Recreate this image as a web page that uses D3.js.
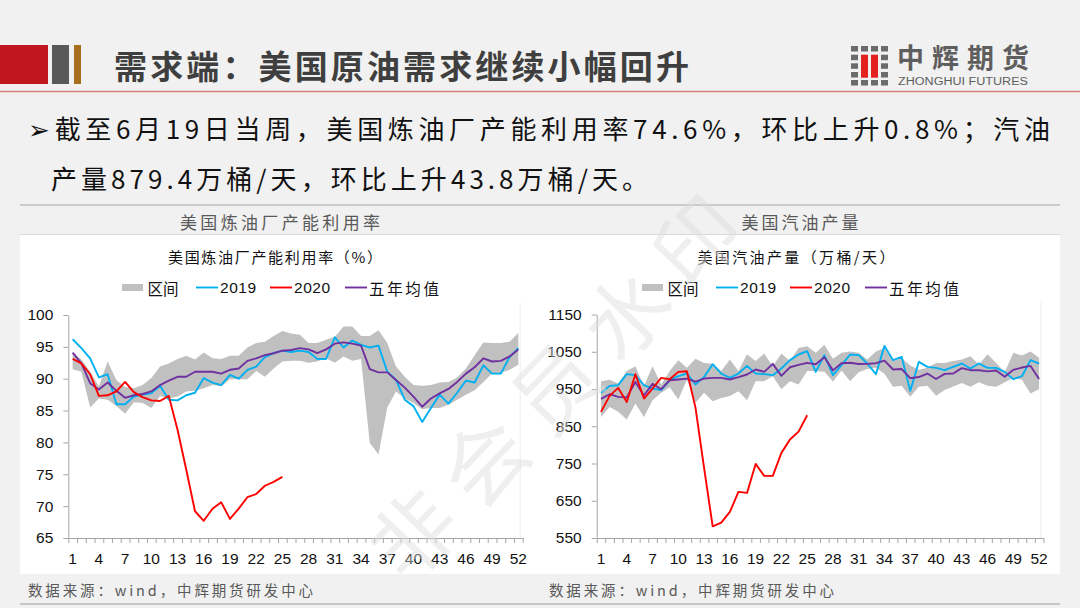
<!DOCTYPE html>
<html><head><meta charset="utf-8">
<script src="https://cdn.jsdelivr.net/npm/d3@7"></script>
<style>
body{margin:0;background:#f1f1f1;}
svg{display:block;}
</style></head>
<body>
<svg id="c" width="1080" height="608"></svg>
<script>
// ---------- data ----------
const weeks = d3.range(1, 53);
const xTickLabels = [1,4,7,10,13,16,19,22,25,28,31,34,37,40,43,46,49,52];
const legendLabels = ["区间","2019","2020","五年均值"];

// 美国炼油厂产能利用率 (%)
const utilTicks = [65,70,75,80,85,90,95,100];
const utilUpper = [94.1,93.0,91.1,88.8,92.7,89.8,88.7,88.5,89.0,90.1,91.9,92.4,93.1,93.6,93.0,94.1,93.2,93.1,93.6,93.6,94.9,95.6,95.8,96.7,97.5,97.1,96.9,95.6,95.6,96.1,96.6,98.2,98.2,96.7,96.7,97.6,95.6,91.9,90.3,89.0,88.9,89.0,89.4,89.5,90.2,91.6,93.7,95.7,95.6,95.6,95.8,97.2];
const utilLower = [91.5,91.1,85.5,86.9,86.7,85.7,84.5,86.3,86.2,85.4,87.3,86.9,87.2,88.0,88.1,88.5,89.0,88.8,89.9,89.9,89.9,91.2,90.3,91.6,92.7,92.8,92.8,92.5,92.7,93.2,92.5,93.5,92.8,93.1,79.9,78.1,85.5,88.0,86.9,86.2,85.2,85.4,85.4,85.9,86.7,87.5,88.2,89.5,90.8,90.9,91.4,92.2];
const util2019 = [96.2,94.8,93.2,90.2,90.7,86.0,86.0,87.2,87.5,87.7,88.9,86.7,86.6,87.4,87.8,90.1,89.4,89.0,90.6,90.0,91.4,91.9,93.4,94.0,94.4,94.2,94.4,94.2,93.1,93.1,96.5,94.9,96.0,95.3,94.9,95.2,91.1,89.8,86.7,85.7,83.2,85.4,87.5,86.1,87.8,89.7,89.4,92.1,90.8,90.8,93.4,94.8];
const util2020 = [93.1,92.4,90.7,87.3,87.4,88.0,89.5,87.9,87.1,86.6,86.5,87.3,82.0,75.7,69.2,67.7,69.6,70.6,68.0,69.6,71.4,71.9,73.2,73.8,74.6];
const util5y = [94.1,92.4,89.3,88.3,89.4,88.1,87.0,87.4,87.6,88.0,89.0,89.7,90.3,90.3,91.1,91.1,91.1,90.8,91.4,91.6,92.8,93.2,93.7,94.0,94.4,94.5,94.8,94.6,94.0,94.6,95.5,95.7,95.5,95.2,91.5,91.0,91.0,89.8,88.6,87.2,85.6,86.9,87.7,88.4,89.5,90.8,91.8,93.2,92.7,92.8,93.5,94.6];

// 美国汽油产量 (万桶/天)
const gasTicks = [550,650,750,850,950,1050,1150];
const gasUpper = [971,975,965,998,1011,958,1011,962,998,1027,1007,1031,1020,1018,998,1029,998,1043,1025,1045,1011,1045,1025,1060,1065,1047,1069,1031,1047,1051,1047,1029,1051,1060,1025,1033,1013,1002,1007,1020,1020,1025,1029,1038,1016,1043,1020,995,1047,1040,1051,1034];
const gasLower = [875,902,889,868,911,875,920,940,955,922,975,913,940,917,926,931,944,920,971,971,984,949,971,962,998,998,996,970,1000,971,995,1004,1007,991,956,959,929,956,959,932,947,957,966,956,968,959,956,968,980,975,938,950];
const gas2019 = [939.6,958.4,960.2,989.8,987.1,960.2,951.3,946.8,973.6,984.4,991.5,962,982.6,1016.6,991.5,979.9,991.5,1012,991.5,989.8,987.1,1005,1027.4,1042.6,1051.5,996,1040.8,987,1014,1042.6,1040.8,1018.4,989.8,1065.8,1027.4,1036.3,945,1022.9,1009.4,1006.8,1000.5,1009.4,1018.4,1005,1018.4,1006.8,1006.8,996,976.3,984.4,1027.4,1018.4];
const gas2020 = [888.6,931.6,953,915.4,989.8,924.4,951.3,979.9,976.3,996,997.8,900,738,581.5,591.4,620,673.7,671,748.9,716.7,716.7,778.5,814.3,835.6,879.4];
const gas5y = [923.5,936,928.9,927.5,969,932.5,963.8,949.5,973.5,975.5,978,970,978.1,979.9,979.9,975.4,981.7,988.9,1002.3,996,1017.5,985.3,1008.5,1014.8,1020.2,1016.6,1035.4,1000,1019.3,1020.6,1017,1017.4,1019.3,1026,1002.3,1003.6,979,982.1,991.5,976.8,990.6,991.5,1005.9,1000.5,1000.5,997.4,999.6,982.6,1001.4,1007.6,1012,976.8];

// ---------- drawing ----------
const svg = d3.select("#c");
const CJK = "'Noto Sans CJK SC', 'Noto Sans', sans-serif";
const NUM = "'Liberation Sans', Arial, sans-serif";

svg.append("rect").attr("width",1080).attr("height",608).attr("fill","#f1f1f1");

// header
svg.append("rect").attr("x",0).attr("y",45).attr("width",48).attr("height",39).attr("fill","#c0161d");
svg.append("rect").attr("x",52).attr("y",45).attr("width",17).attr("height",39).attr("fill","#595959");
svg.append("rect").attr("x",74).attr("y",45).attr("width",7).attr("height",39).attr("fill","#a8701e");
svg.append("text").attr("x",114).attr("y",65).attr("dominant-baseline","central")
  .attr("font-family",CJK).attr("font-weight","bold").attr("font-size",33).attr("fill","#3f3f3f")
  .attr("textLength",575).attr("lengthAdjust","spacing")
  .text("需求端：美国原油需求继续小幅回升");
svg.append("line").attr("x1",0).attr("x2",1080).attr("y1",91.5).attr("y2",91.5)
  .attr("stroke","#d98080").attr("stroke-width",1.5);

// logo
const logo = svg.append("g");
const colX = [851,861,871,881], rowY = [46,54.7,63.3,72,80];
rowY.forEach((ry,ri)=>colX.forEach((cx,ci)=>{
  if ((ci===1||ci===2) && ri>=1 && ri<=3) return;
  logo.append("rect").attr("x",cx).attr("y",ry).attr("width",7).attr("height",5.5).attr("fill","#6b6b6b");
}));
logo.append("rect").attr("x",861).attr("y",54.7).attr("width",7).attr("height",23).attr("fill","#e3211f");
logo.append("rect").attr("x",871).attr("y",54.7).attr("width",7).attr("height",23).attr("fill","#e3211f");
logo.append("text").attr("x",897).attr("y",56.5).attr("dominant-baseline","central")
  .attr("font-family",CJK).attr("font-weight","bold").attr("font-size",27).attr("fill","#5e5e5e")
  .attr("textLength",132).attr("lengthAdjust","spacing").text("中辉期货");
logo.append("text").attr("x",898).attr("y",81.5).attr("dominant-baseline","central")
  .attr("font-family",NUM).attr("font-size",10).attr("fill","#5e5e5e")
  .attr("textLength",130).attr("lengthAdjust","spacingAndGlyphs").text("ZHONGHUI FUTURES");

// bullet text
svg.append("text").attr("x",28).attr("y",127).attr("dominant-baseline","central")
  .attr("font-family",CJK).attr("font-size",26).attr("fill","#111")
  .attr("textLength",1022).attr("lengthAdjust","spacing")
  .text("➢截至6月19日当周，美国炼油厂产能利用率74.6%，环比上升0.8%；汽油");
svg.append("text").attr("x",51).attr("y",177).attr("dominant-baseline","central")
  .attr("font-family",CJK).attr("font-size",26).attr("fill","#111")
  .attr("textLength",597).attr("lengthAdjust","spacing")
  .text("产量879.4万桶/天，环比上升43.8万桶/天。");

// panel
svg.append("rect").attr("x",20).attr("y",235).attr("width",1040).attr("height",339).attr("fill","#ffffff");
svg.append("line").attr("x1",20).attr("x2",1060).attr("y1",205).attr("y2",205).attr("stroke","#bdbdbd").attr("stroke-width",1.5);
svg.append("line").attr("x1",20).attr("x2",1060).attr("y1",234.5).attr("y2",234.5).attr("stroke","#dadada").attr("stroke-width",1);
svg.append("line").attr("x1",20).attr("x2",1060).attr("y1",604).attr("y2",604).attr("stroke","#c6c6c6").attr("stroke-width",2);

function footer(x, len){
  svg.append("text").attr("x",x).attr("y",589).attr("dominant-baseline","central")
    .attr("font-family",CJK).attr("font-size",14.5).attr("fill","#595959")
    .attr("textLength",len).attr("lengthAdjust","spacing").text("数据来源：wind，中辉期货研发中心");
}
footer(28,285); footer(549,285);

function drawChart(cfg){
  const g = svg.append("g");
  g.append("text").attr("x",cfg.subX).attr("y",221.5).attr("text-anchor","middle").attr("dominant-baseline","central")
    .attr("font-family",CJK).attr("font-size",17).attr("fill","#595959")
    .attr("textLength",cfg.subLen).attr("lengthAdjust","spacing").text(cfg.subtitle);
  g.append("text").attr("x",cfg.titleX).attr("y",256).attr("text-anchor","middle").attr("dominant-baseline","central")
    .attr("font-family",CJK).attr("font-size",15).attr("fill","#111")
    .attr("textLength",cfg.titleLen).attr("lengthAdjust","spacing").text(cfg.title);

  const x = d3.scaleBand().domain(weeks).range([cfg.x0, cfg.x1]).paddingInner(0).paddingOuter(0);
  const xc = w => x(w) + x.bandwidth()/2;
  const xb = d3.scaleLinear().domain([0,52]).range([cfg.x0, cfg.x1]);
  const y = d3.scaleLinear().domain(cfg.yDomain).range([cfg.yBottom, cfg.yTop]);

  g.append("line").attr("x1",cfg.x1-2.5).attr("x2",cfg.x1-2.5).attr("y1",cfg.yTop-12).attr("y2",cfg.yBottom)
    .attr("stroke","#ececec").attr("stroke-width",1);

  const band = weeks.map((w,i)=>({w, lo:cfg.lower[i], hi:cfg.upper[i]}));
  g.append("path").datum(band)
    .attr("d", d3.area().x(d=>xc(d.w)).y0(d=>y(d.lo)).y1(d=>y(d.hi)))
    .attr("fill","#c0c0c0");

  const line = d3.line().x(d=>xc(d.w)).y(d=>y(d.v));
  const series = [
    {vals:cfg.s2019, color:"#00b0f0"},
    {vals:cfg.s5y, color:"#7030a0"},
    {vals:cfg.s2020, color:"#ff0000"}
  ];
  series.forEach(s=>{
    g.append("path").datum(s.vals.map((v,i)=>({w:weeks[i], v})))
      .attr("d", line).attr("fill","none").attr("stroke",s.color)
      .attr("stroke-width",1.9).attr("stroke-linejoin","round");
  });

  const ya = g.append("g").attr("transform",`translate(${cfg.x0},0)`)
    .call(d3.axisLeft(y).tickValues(cfg.ticks).tickFormat(d3.format("d")).tickSize(5).tickPadding(10).tickSizeOuter(0));
  ya.select(".domain").attr("stroke","#a6a6a6");
  ya.selectAll(".tick line").attr("stroke","#a6a6a6");
  ya.selectAll("text").attr("font-family",NUM).attr("font-size",15.5).attr("fill","#111");

  const xa = g.append("g").attr("transform",`translate(0,${cfg.yBottom})`)
    .call(d3.axisBottom(xb).tickValues(d3.range(0,53)).tickSize(5).tickFormat("").tickSizeOuter(0));
  xa.select(".domain").attr("stroke","#a6a6a6");
  xa.selectAll(".tick line").attr("stroke","#a6a6a6");
  const xl = g.append("g").attr("transform",`translate(0,${cfg.yBottom})`)
    .call(d3.axisBottom(x).tickValues(xTickLabels).tickSize(0).tickPadding(14.5));
  xl.select(".domain").remove();
  xl.selectAll("text").attr("font-family",NUM).attr("font-size",15.5).attr("fill","#111");

  const L = cfg.legX;
  const ly = 287.5;
  g.append("rect").attr("x",L).attr("y",ly-3.5).attr("width",21).attr("height",7).attr("fill","#c0c0c0");
  const items = [
    {lx:L+74, color:"#00b0f0", tx:L+98, len:36, t:legendLabels[1]},
    {lx:L+148, color:"#ff0000", tx:L+172, len:36, t:legendLabels[2]},
    {lx:L+223, color:"#7030a0", tx:L+247, len:70, t:legendLabels[3]}
  ];
  g.append("text").attr("x",L+25.5).attr("y",ly).attr("dominant-baseline","central")
    .attr("font-family",CJK).attr("font-size",15.5).attr("fill","#111")
    .attr("textLength",31).attr("lengthAdjust","spacing").text(legendLabels[0]);
  items.forEach(it=>{
    g.append("line").attr("x1",it.lx).attr("x2",it.lx+22).attr("y1",ly).attr("y2",ly)
      .attr("stroke",it.color).attr("stroke-width",1.9);
    g.append("text").attr("x",it.tx).attr("y",ly).attr("dominant-baseline","central")
      .attr("font-family", /\d/.test(it.t) ? NUM : CJK).attr("font-size",15.5).attr("fill","#111")
      .attr("textLength",it.len).attr("lengthAdjust","spacing").text(it.t);
  });
}

drawChart({
  subtitle:"美国炼油厂产能利用率", subX:280, subLen:200,
  title:"美国炼油厂产能利用率（%）", titleX:275, titleLen:214,
  x0:68.3, x1:522.7, yTop:315, yBottom:538, yDomain:[65,100], ticks:utilTicks,
  upper:utilUpper, lower:utilLower, s2019:util2019, s2020:util2020, s5y:util5y,
  legX:122
});
drawChart({
  subtitle:"美国汽油产量", subX:800, subLen:117,
  title:"美国汽油产量（万桶/天）", titleX:796, titleLen:197,
  x0:596.7, x1:1043.4, yTop:314.5, yBottom:538, yDomain:[550,1150], ticks:gasTicks,
  upper:gasUpper, lower:gasLower, s2019:gas2019, s2020:gas2020, s5y:gas5y,
  legX:642
});

// watermark
svg.append("text").attr("transform","translate(558,378) rotate(-46)")
  .attr("text-anchor","middle").attr("dominant-baseline","central")
  .attr("font-family",CJK).attr("font-size",84).attr("fill","#dcdcdc").attr("fill-opacity",0.45)
  .attr("letter-spacing",18).text("非会员水印");
</script>
</body></html>
